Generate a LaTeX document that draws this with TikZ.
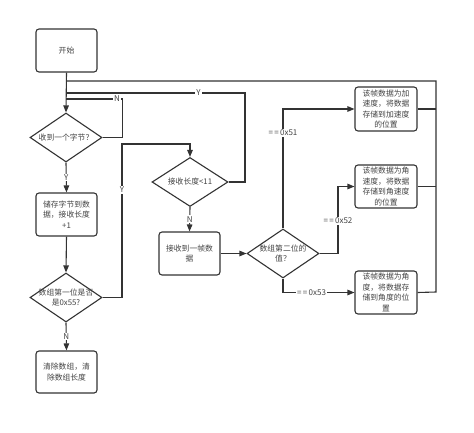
\documentclass[tikz,border=0pt]{standalone}
\usepackage{fontspec}
\setmainfont{Noto Sans CJK SC}
\usetikzlibrary{shapes.geometric,arrows.meta}
\definecolor{linec}{HTML}{333333}
\definecolor{txt}{HTML}{444444}
\begin{document}
\begin{tikzpicture}[x=1pt,y=-1pt,
  box/.style={draw=linec, rounded corners=3pt, line width=1.1pt, minimum width=61pt, minimum height=43pt, align=center, font=\fontsize{7.8}{10.5}\selectfont, text=txt, inner sep=1pt},
  dia/.style={draw=linec, diamond, line width=1.1pt, minimum width=72pt, minimum height=49pt, inner sep=0pt},
  dtext/.style={align=center, font=\fontsize{7.8}{10.5}\selectfont, text=txt, inner sep=0pt},
  conn/.style={draw=linec, line width=1.1pt},
  arr/.style={conn, -{Triangle[length=7pt,width=5.5pt]}},
  lab/.style={fill=white, inner sep=1pt, font=\fontsize{8}{9}\selectfont, text=txt}]
\useasboundingbox (0,0) rectangle (474,432);
\fill[white] (0,0) rectangle (474,432);

\node[box] (start) at (66.5,50.5) {开始};
\node[dia] (d1) at (66,137.5) {};
\node[dtext] (d1t) at (d1.center) {收到一个字节？};
\node[box] (b2) at (66.5,214.5) {储存字节到数\\据，接收长度\\+1};
\node[dia] (d3) at (66,297.5) {};
\node[dtext] (d3t) at (d3.center) {数组第一位是否\\是0x55?};
\node[box, minimum height=42pt] (b3) at (66.5,372) {清除数组，清\\除数组长度};
\node[dia, minimum width=76pt] (d2) at (190,182) {};
\node[dtext] (d2t) at (d2.center) {接收长度<11};
\node[box] (b4) at (189.5,253.5) {接收到一帧数\\据};
\node[dia] (d4) at (283,253.5) {};
\node[dtext] (d4t) at (d4.center) {数组第二位的\\值？};
\node[box, minimum width=62pt, minimum height=44pt] (bA) at (386,109) {该帧数据为加\\速度，将数据\\存储到加速度\\的位置};
\node[box, minimum width=62pt] (bB) at (386,186.5) {该帧数据为角\\速度，将数据\\存储到角速度\\的位置};
\node[box, minimum width=62pt] (bC) at (386,292.5) {该帧数据为角\\度，将数据存\\储到角度的位\\置};

\coordinate (tr) at (436,81);
\coordinate (tl) at (66,81);

% main line from start
\draw[arr] (start.south) -- (d1.north);
\draw[conn] (tl) -- (tr) -- (436,292) -- (bC.east);
\draw[conn] (bA.east) -- (bA.east -| tr);
\draw[conn] (bB.east) -- (bB.east -| tr);

% N loop of d1
\draw[conn] (d1.east) -- ++(20,0) |- (66,99) node[lab, pos=0.55] (ln1) {N};
% Y loop from d2
\draw[conn] (d2.east) -- (245,182) |- (66,93) node[lab, pos=0.63] (ly1) {Y};

\draw[arr] (d1.south) -- node[lab, pos=0.5] (ly2) {Y} (b2.north);
\draw[arr] (b2.south) -- (d3.north);
\draw[arr] (d3.east) -- (122,297.5) -- node[lab, pos=0.7] (ly3) {Y} (122,144) -| (d2.north);
\draw[arr] (d3.south) -- node[lab, pos=0.5] (ln2) {N} (b3.north);
\draw[arr] (d2.south) -- node[lab, pos=0.5] (ln3) {N} (b4.north);
\draw[arr] (b4.east) -- (d4.west);

\draw[arr] (d4.north) |- node[lab, pos=0.4] (l51) {=\,=\,0x51} (bA.west);
\draw[arr] (d4.east) -- (338,253.5) |- node[lab, pos=0.245] (l52) {=\,=\,0x52} (bB.west);
\draw[arr] (d4.south) |- node[lab, pos=0.7] (l53) {=\,=\,0x53} (bC.west);
\end{tikzpicture}
\end{document}
